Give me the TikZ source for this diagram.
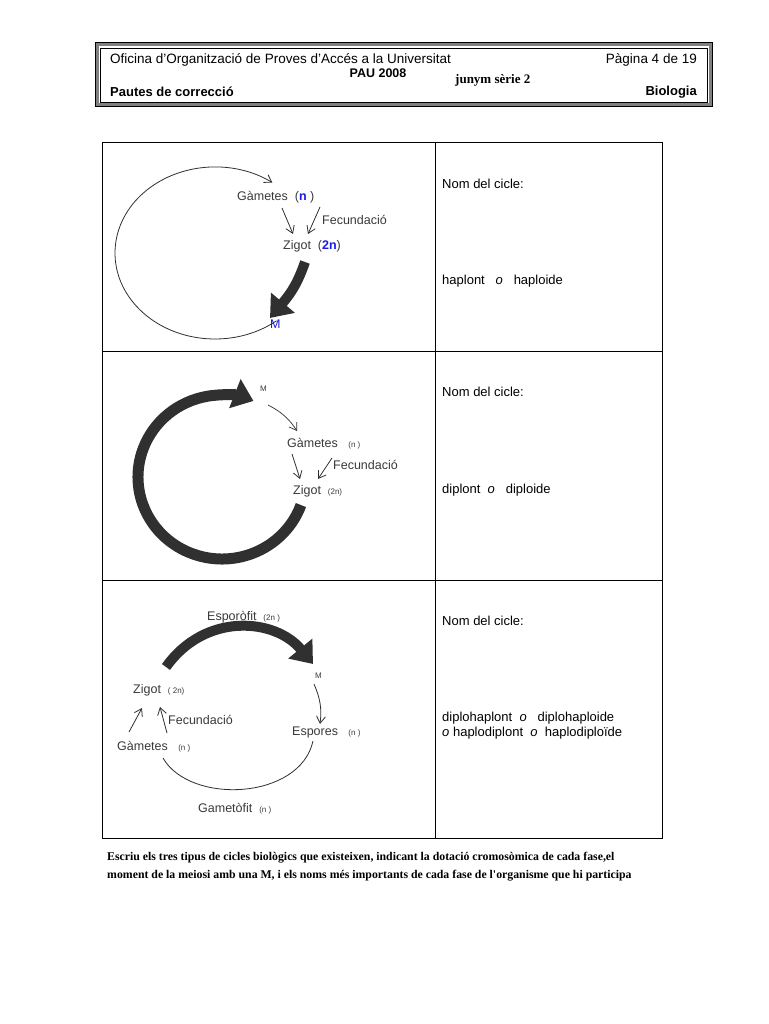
\documentclass[tikz,border=0pt]{standalone}
\usepackage{fontspec}
\setmainfont{Liberation Sans}
\newfontfamily\serifbf{Liberation Serif}
\usetikzlibrary{arrows.meta,calc}
\definecolor{ink}{HTML}{303030}
\definecolor{lbl}{HTML}{3A3A3A}
\definecolor{blu}{HTML}{1A1AE0}
\begin{document}
\begin{tikzpicture}[x=1pt,y=-1pt,
  lab/.style={inner sep=0pt,anchor=west,text=lbl,font=\fontsize{12.5}{14}\selectfont},
  rt/.style={inner sep=0pt,anchor=west,text=black,font=\fontsize{13}{15}\selectfont},
  sm/.style={inner sep=0pt,anchor=west,text=lbl,font=\fontsize{8}{9}\selectfont},
  hd/.style={inner sep=0pt,font=\fontsize{13.5}{15}\selectfont},
  thin/.style={draw=ink,line width=0.8pt,-{Straight Barb[length=7pt,width=9pt]}},
  fat/.style={draw=ink,line width=10pt,-{Triangle[length=20pt,width=30pt]}},
  cell/.style={draw=black,line width=0.9pt}]
\useasboundingbox (0,0) rectangle (768,1024);
\fill[white] (0,0) rectangle (768,1024);
% header
\draw[line width=3pt,gray] (97,45) rectangle (710,105);
\draw[line width=1pt] (95,43) rectangle (712,107);
\draw[line width=0.8pt] (100,48) rectangle (707,102);
\node[hd,anchor=west] (h1) at (110,60) {Oficina d'Organització de Proves d'Accés a la Universitat};
\node[hd,anchor=east] (h2) at (697,60) {Pàgina 4 de 19};
\node[hd,font=\bfseries\fontsize{12.5}{14}\selectfont] (h3) at (378,73) {PAU 2008};
\node[inner sep=0pt,anchor=west,font=\serifbf\bfseries\fontsize{13}{15}\selectfont] (h4) at (455,80) {junym sèrie 2};
\node[hd,anchor=west,font=\bfseries\fontsize{13}{15}\selectfont] (h5) at (110,92) {Pautes de correcció};
\node[hd,anchor=east,font=\bfseries\fontsize{13}{15}\selectfont] (h6) at (697,92) {Biologia};
% table
\draw[cell] (102,142) rectangle (662,838);
\draw[cell] (435,142) -- (435,838);
\draw[cell] (102,351) -- (662,351);
\draw[cell] (102,580) -- (662,580);
\node[rt] (n1) at (442,184) {Nom del cicle:};
\node[rt] (n2) at (442,392) {Nom del cicle:};
\node[rt] (n3) at (442,621) {Nom del cicle:};
\node[rt] (a1) at (442,281) {haplont \ \ \textit{o} \ \ haploide};
\node[rt] (a2) at (442,490) {diplont \ \textit{o} \ \ diploide};
\node[rt] (a3) at (442,718) {diplohaplont \ \textit{o} \ \ diplohaploide};
\node[rt] (a4) at (442,733) {\textit{o} haplodiplont \ \textit{o} \ haplodiploïde};
% caption
\node[inner sep=0pt,anchor=west,align=left,font=\serifbf\bfseries\fontsize{11.8}{18}\selectfont] (cap) at (107,867) {Escriu els tres tipus de cicles biològics que existeixen, indicant la dotació cromosòmica de cada fase,el\\moment de la meiosi amb una M, i els noms més importants de cada fase de l'organisme que hi participa};
% diagram 1
\coordinate (c1) at (215,253);
\coordinate (m1s) at ($(c1)+(52:100 and 86)$);
\draw[thin] (m1s) arc[start angle=52,end angle=305,x radius=100,y radius=86];
\node[lab] (g1) at (237,197) {Gàmetes \ (\textcolor{blu}{\textbf{n}} )};
\node[lab] (f1) at (322,220) {Fecundació};
\node[lab] (z1) at (283,246) {Zigot \ (\textcolor{blu}{\textbf{2n}})};
\node[lab,text=blu] (M1) at (270,324) {M};
\draw[thin] (282,208) -- (293,234);
\draw[thin] (320,207) -- (308,234);
\draw[fat] (305,262) .. controls (298,282) and (292,292) .. (270,318);
% diagram 2
\coordinate (c2) at (222,477);
\draw[fat,line width=11pt] ($(c2)+(20:84 and 82)$) arc[start angle=20,end angle=292,x radius=84,y radius=82];
\node[sm] (M2) at (260,389) {M};
\draw[thin,line width=0.7pt] (268,405) .. controls (282,412) and (290,420) .. (297,431);
\node[lab] (g2) at (287,444) {Gàmetes \ \ {\fontsize{8}{9}\selectfont(n )}};
\node[lab] (f2) at (333,465) {Fecundació};
\node[lab] (z2) at (293,491) {Zigot \ {\fontsize{8}{9}\selectfont(2n)}};
\draw[thin] (292,454) -- (300,479);
\draw[thin] (332,458) -- (318,479);
% diagram 3
\node[lab] (e3) at (207,617) {Esporòfit \ {\fontsize{8}{9}\selectfont(2n )}};
\draw[fat] (166,667) .. controls (205,612) and (275,618) .. (313,664);
\node[sm] (M3) at (315,676) {M};
\draw[thin] (314,684) .. controls (320,698) and (322,708) .. (320,724);
\node[lab] (s3) at (292,732) {Espores \ \ {\fontsize{8}{9}\selectfont(n )}};
\draw[line width=0.8pt,ink] (313,741) .. controls (300,800) and (190,805) .. (163,758);
\node[lab] (gf3) at (198,809) {Gametòfit \ {\fontsize{8}{9}\selectfont(n )}};
\node[lab] (z3) at (133,690) {Zigot \ {\fontsize{8}{9}\selectfont( 2n)}};
\node[lab] (g3) at (117,747) {Gàmetes \ \ {\fontsize{8}{9}\selectfont(n )}};
\node[lab] (f3) at (168,720) {Fecundació};
\draw[thin] (129,732) -- (142,708);
\draw[thin] (167,733) -- (160,707);
\end{tikzpicture}
\end{document}
